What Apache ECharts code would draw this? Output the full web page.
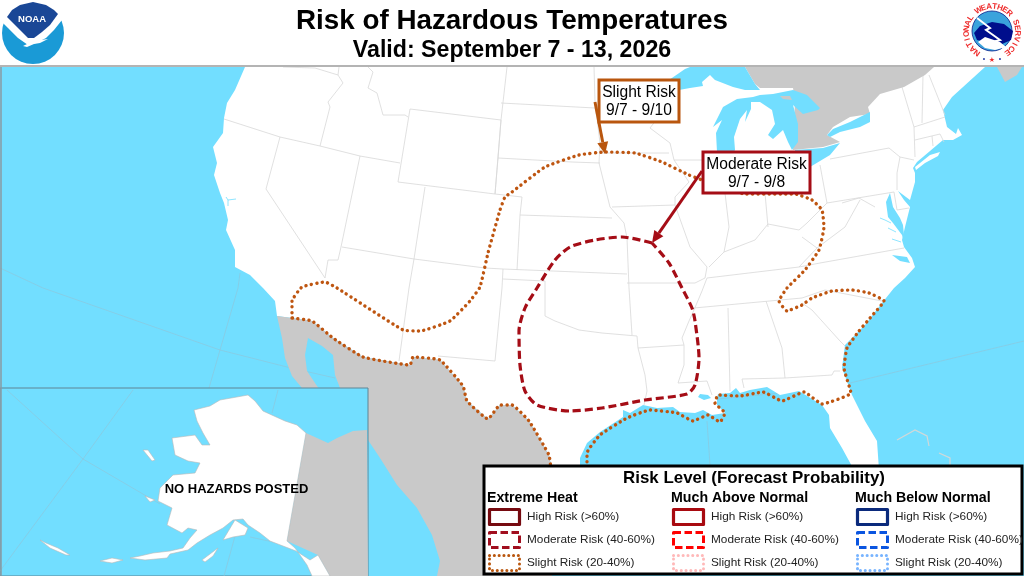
<!DOCTYPE html>
<html>
<head>
  <title>Risk of Hazardous Temperatures</title>
  <meta charset="UTF-8">
  <script src="https://cdn.jsdelivr.net/npm/echarts@6/dist/echarts.min.js"></script>
  <style>html,body{margin:0;padding:0;background:#fff}</style>
</head>
<body>
  <div id="myChart" style="width: 1024px; height: 576px;"></div>

  <script>
    const titleText = 'Risk of Hazardous Temperatures';
    const subtitleText = 'Valid: September 7 - 13, 2026';

    const oceanArea = [[0,67],[1024,67],[1024,576],[0,576]];
    const usLand = [[245,67],[235,90],[227,103],[224,118],[223,133],[213,147],[217,163],[214,175],[220,193],[224,203],[228,220],[226,230],[235,250],[235,267],[250,275],[263,288],[275,301],[277,316],[292,318],[312,321],[333,338],[363,357],[410,365],[413,357],[440,360],[463,386],[467,401],[488,419],[500,405],[512,405],[529,421],[549,455],[552,470],[580,470],[580,458],[587,443],[600,432],[623,417],[623,410],[630,413],[643,405],[657,408],[673,407],[680,412],[695,413],[703,410],[712,415],[725,413],[717,405],[717,398],[718,394],[730,393],[736,388],[740,393],[750,390],[767,387],[780,395],[799,391],[822,405],[829,415],[830,428],[842,448],[854,470],[879,470],[877,441],[865,421],[852,395],[842,368],[845,345],[865,325],[882,303],[894,288],[905,278],[915,267],[912,258],[904,247],[902,240],[905,227],[910,207],[904,200],[898,191],[910,200],[915,182],[915,173],[913,168],[917,162],[943,140],[953,140],[962,135],[958,128],[956,134],[947,127],[943,110],[952,97],[985,67]];
    const longIsland = [[915,167],[930,155],[940,152],[938,156],[925,163],[916,170]];
    const canadaEast = [[745,67],[934,67],[925,75],[904,87],[880,94],[868,107],[870,114],[850,117],[833,127],[827,135],[840,142],[823,147],[793,150],[795,100],[793,88],[760,88],[755,84]];
    const novaScotia = [[997,67],[1022,67],[1017,75],[1005,82]];
    const manitoulin = [[780,96],[790,96],[792,100],[783,99]];
    const mexicoLand = [[277,316],[292,318],[312,321],[333,338],[363,357],[410,365],[413,357],[440,360],[463,386],[467,401],[488,419],[500,405],[512,405],[529,421],[549,455],[552,470],[552,576],[437,576],[440,561],[432,535],[417,508],[397,485],[380,458],[368,440],[340,388],[335,375],[333,355],[322,346],[308,338],[305,355],[307,371],[317,386],[322,392],[302,388],[292,376],[285,358],[282,338]];
    const lakeSuperior = [[669,80],[685,69],[690,67],[745,67],[755,84],[760,90],[745,90],[733,87],[715,80],[710,75],[702,82],[703,86],[690,88],[679,90]];
    const lakeMichiganHuron = [[753,97],[737,99],[723,107],[717,119],[713,127],[722,120],[716,133],[717,152],[725,165],[735,150],[734,137],[740,119],[747,110],[745,122],[751,109],[751,102],[760,102],[772,110],[775,124],[768,135],[773,139],[783,130],[788,142],[792,150],[798,142],[798,124],[793,105],[803,114],[818,110],[820,108],[807,95],[793,90],[773,94],[760,95]];
    const lakeErie = [[840,143],[823,148],[795,150],[795,165],[810,167],[830,155]];
    const lakeOntario = [[827,135],[833,129],[850,122],[870,112],[870,122],[860,127],[840,132],[830,137]];
    const chesapeake = [[890,193],[886,202],[888,217],[893,223],[902,235],[905,245],[903,225],[900,218],[893,207]];
    const albemarle = [[892,255],[907,257],[910,263],[900,261]];
    const pontchartrain = [[698,397],[700,394],[708,395],[711,398],[704,400]];
    const waterLines = [
      [[880,218],[885,220],[891,223]],
      [[888,228],[896,232]],
      [[892,239],[901,242]],
      [[226,197],[228,200],[236,199]],
      [[228,200],[228,206]]
    ];

    const gridLines = [
      [[0,268],[43,288],[220,350],[287,367],[335,378]],
      [[240,273],[238,288],[220,350],[209,388]],
      [[850,383],[1024,341]],
      [[707,421],[710,465]],
      [[718,399],[780,393]]
    ];
    const cubaLines = [
      [[897,440],[915,430],[927,436],[929,446]],
      [[939,453],[950,458],[950,465]]
    ];
    const stateLines = [
      [[224,119],[280,137],[320,146],[360,156],[400,163]],
      [[280,137],[266,189],[325,278],[328,260],[338,260],[341,247]],
      [[360,156],[341,247]],
      [[320,146],[330,107],[328,102],[343,83],[338,75],[339,67]],
      [[283,67],[315,68],[338,75]],
      [[368,67],[373,72],[368,88],[377,93],[383,115],[405,115],[408,117]],
      [[410,109],[501,120],[495,194],[398,182],[410,109]],
      [[425,187],[414,259],[409,288],[399,361]],
      [[342,247],[414,259],[485,268],[503,269],[627,274]],
      [[507,67],[501,120],[498,158],[495,194]],
      [[495,194],[522,197],[520,215],[517,270]],
      [[503,269],[502,288],[495,361]],
      [[438,356],[495,361]],
      [[501,103],[595,108]],
      [[498,158],[572,162],[600,163]],
      [[520,215],[612,218]],
      [[503,279],[545,281],[545,316],[555,321],[579,330],[602,333],[637,336],[638,348],[684,345]],
      [[627,238],[629,288],[632,335]],
      [[627,283],[695,283]],
      [[638,348],[645,375],[647,391],[644,405]],
      [[684,345],[682,338],[689,321],[694,310],[702,291],[707,278]],
      [[684,345],[684,365],[678,383],[707,381],[712,395]],
      [[728,308],[730,391]],
      [[766,301],[782,348],[785,378],[742,379],[744,388]],
      [[785,378],[832,375],[834,371],[840,371]],
      [[694,308],[802,298],[825,290],[882,301]],
      [[802,303],[812,310],[840,341],[845,346]],
      [[594,67],[595,102],[600,143],[599,163],[610,207],[624,223],[627,238]],
      [[600,153],[669,153]],
      [[679,90],[650,128],[670,143],[674,160],[689,182],[675,197],[675,205]],
      [[674,160],[718,160]],
      [[612,207],[675,205],[690,247],[707,267],[705,278],[695,283]],
      [[725,193],[729,227],[724,252]],
      [[765,193],[768,227]],
      [[709,267],[724,252],[755,240],[768,224],[799,230],[807,223],[820,210]],
      [[707,278],[799,267],[820,263],[904,248]],
      [[799,267],[817,248],[802,237]],
      [[817,248],[845,227],[860,200]],
      [[820,165],[827,203],[820,210]],
      [[827,203],[894,192]],
      [[830,159],[889,148],[900,157],[914,160]],
      [[900,157],[897,173],[897,190]],
      [[894,192],[897,210],[909,208]],
      [[842,203],[859,198],[875,207]],
      [[902,87],[914,127],[915,157]],
      [[923,75],[922,123]],
      [[929,75],[945,115]],
      [[914,127],[945,117]],
      [[915,140],[940,134],[944,142]],
      [[932,136],[933,146]]
    ];

    const insetArea = [[0,388],[368,388],[368,576],[0,576]];
    const insetGrid = [
      [[7,390],[83,459],[160,504]],
      [[133,390],[83,459],[0,571]],
      [[278,390],[272,413]],
      [[235,536],[224,576]],
      [[250,537],[287,545]]
    ];
    const insetCanada = [[306,433],[328,443],[337,438],[353,431],[367,430],[368,576],[330,576],[318,555],[287,541]];
    const alaskaMain = [[194,410],[210,406],[220,400],[248,395],[255,401],[263,411],[285,421],[297,425],[306,433],[287,541],[295,548],[307,565],[312,576],[330,576],[318,555],[310,560],[296,551],[270,541],[260,533],[248,525],[243,519],[233,520],[223,528],[210,535],[197,543],[188,550],[170,554],[167,558],[145,560],[130,558],[140,556],[153,553],[170,551],[183,548],[190,538],[197,530],[188,528],[182,533],[167,525],[172,508],[158,501],[160,488],[173,475],[195,473],[200,463],[188,461],[175,455],[172,438],[195,435],[202,445],[210,445],[203,433],[197,421]];
    const alaskaIslands = [
      [[223,540],[235,520],[248,528],[245,535],[233,537]],
      [[202,560],[218,548],[213,556],[205,562]],
      [[143,450],[148,450],[155,460],[152,461]],
      [[145,496],[155,500],[150,502]],
      [[100,561],[112,558],[123,560],[112,563]],
      [[40,540],[46,543],[58,548],[70,555],[66,555],[50,548]]
    ];

    const slightRisk = [[292,318],[292,301],[302,287],[325,282],[337,288],[403,330],[420,331],[450,321],[470,301],[480,287],[488,253],[500,210],[505,197],[512,192],[545,167],[579,155],[605,152],[635,153],[662,162],[689,175],[702,180],[745,194],[795,194],[812,200],[822,210],[824,227],[819,250],[805,270],[787,288],[779,301],[787,311],[802,305],[812,298],[832,291],[852,290],[869,293],[884,301],[870,318],[859,331],[847,348],[844,368],[851,393],[822,404],[804,392],[782,401],[763,392],[740,396],[718,395],[715,403],[725,413],[720,422],[708,415],[693,421],[677,413],[650,410],[627,418],[600,435],[587,453],[587,470],[552,470],[549,455],[529,421],[512,405],[500,405],[488,419],[467,401],[463,386],[440,360],[413,357],[410,365],[363,357],[333,338],[312,321],[292,318]];
    const moderateRisk = [[652,243],[622,237],[595,240],[570,247],[555,260],[537,288],[525,308],[519,331],[520,365],[525,391],[537,405],[570,411],[602,408],[645,400],[687,394],[695,385],[699,358],[695,321],[692,308],[682,288],[669,263],[652,243]];

    const slightArrow = [[595,102],[605,154]];
    const moderateArrow = [[702,171],[652,243]];
    const calloutBoxes = [[599,80,679,122],[703,152,810,193]];
    const calloutColors = ['#B9560E', '#A50D16'];
    const calloutLines = [['Slight Risk', '9/7 - 9/10'], ['Moderate Risk', '9/7 - 9/8']];

    const legendBox = [484,466,1022,574];
    const legendTitle = 'Risk Level (Forecast Probability)';
    const legendHeads = ['Extreme Heat', 'Much Above Normal', 'Much Below Normal'];
    const legendLabels = ['High Risk (>60%)', 'Moderate Risk (40-60%)', 'Slight Risk (20-40%)'];
    const legendColumnX = [489.5, 673.5, 857.5];
    const legendRowY = [509.5, 532.5, 555.5];
    const legendColors = [
      ['#760A10', '#A10E1E', '#B9560E'],
      ['#A80A10', '#FF0000', '#FFB9B9'],
      ['#0B2A7C', '#0A55E0', '#78B4FF']
    ];

    const noaaDark = [[7,17],[12,10],[20,5],[33,2],[46,5],[54,10],[58,14],[50,25],[42,32],[34,38],[28,38],[18,28]];
    const noaaWhite = [[0,0],[66,0],[66,16],[62,20],[54,30],[46,38],[36,43],[28,45],[18,38],[8,28],[2,22]];
    const noaaTail = [[23,46],[33,41],[48,39],[40,43],[34,44],[27,47]];
    const nwsCloud = [[974,33],[980,26],[992,22],[1004,24],[1013,31],[1011,40],[1000,45],[985,42],[977,40]];
    const nwsWhiteCloud = [[978,42],[985,37],[1000,42],[1006,47],[995,50],[985,48]];
    const nwsBolt = [[977,18],[990,28],[986,30],[1000,40],[996,41],[1004,49]];
    const nwsRingText = 'NATIONAL WEATHER SERVICE';

    const LAND = '#FFFFFF', WATER = '#72DEFF', GRAY = '#C9C9C9';
    const FONT = '"Liberation Sans", Arial, sans-serif';

    function customSeries(list, z, draw) {
      return {
        type: 'custom', coordinateSystem: 'cartesian2d', silent: true, z: z, clip: false,
        data: list.map((_, i) => [i, i]),
        renderItem: (params, api) => draw(list[params.dataIndex], api, params.dataIndex)
      };
    }
    function polygons(list, fill, z, stroke, strokeWidth) {
      return customSeries(list, z, (pts, api) => ({
        type: 'polygon',
        shape: { points: pts.map(p => api.coord(p)) },
        style: { fill: fill, stroke: stroke || null, lineWidth: stroke ? (strokeWidth || 0.6) : 0, lineJoin: 'round' }
      }));
    }
    function polylines(list, color, width, z) {
      return customSeries(list, z, (pts, api) => ({
        type: 'polyline',
        shape: { points: pts.map(p => api.coord(p)) },
        style: { fill: null, stroke: color, lineWidth: width }
      }));
    }
    function rect(box, api) {
      const a = api.coord([box[0], box[1]]), b = api.coord([box[2], box[3]]);
      return { x: a[0], y: a[1], width: b[0] - a[0], height: b[1] - a[1] };
    }
    function texts(items, z) {
      return customSeries(items, z, (t, api) => {
        const c = api.coord([t.x, t.y]);
        return { type: 'text', x: c[0], y: c[1], rotation: t.rot || 0, style: {
          text: t.text, font: t.font, fill: t.fill || '#000',
          align: t.align || 'left', verticalAlign: 'middle' } };
      });
    }
    function arrow(pair, color, z) {
      return customSeries([pair], z, (p, api) => {
        const a = api.coord(p[0]), b = api.coord(p[1]);
        const len = Math.hypot(b[0] - a[0], b[1] - a[1]);
        const ux = (b[0] - a[0]) / len, uy = (b[1] - a[1]) / len;
        const bx = b[0] - ux * 12, by = b[1] - uy * 12;
        return { type: 'group', children: [
          { type: 'line', shape: { x1: a[0], y1: a[1], x2: bx, y2: by }, style: { stroke: color, lineWidth: 3 } },
          { type: 'polygon', shape: { points: [b, [bx - uy * 5.5, by + ux * 5.5], [bx + uy * 5.5, by - ux * 5.5]] }, style: { fill: color } }
        ] };
      });
    }
    function riskLine(data, color, width, dash, cap, z, smooth) {
      return {
        type: 'line', data: data, showSymbol: false, silent: true, z: z, clip: false, smooth: smooth,
        lineStyle: { color: color, width: width, type: dash, cap: cap, join: 'round' }
      };
    }

    const legendStyles = [
      { width: 3.2, dash: null, cap: 'butt' },
      { width: 3, dash: [7.5, 3.5], cap: 'butt' },
      { width: 3, dash: [0.1, 4.7], cap: 'round' }
    ];
    const swatches = [];
    const legendTexts = [
      { x: 754, y: 478, text: legendTitle, font: 'bold 16.9px ' + FONT, align: 'center' }
    ];
    legendColumnX.forEach((x, c) => {
      legendTexts.push({ x: x - 2.5, y: 498, text: legendHeads[c], font: 'bold 14.2px ' + FONT });
      legendRowY.forEach((y, r) => {
        swatches.push({ box: [x, y, x + 30, y + 15], color: legendColors[c][r], look: legendStyles[r] });
        legendTexts.push({ x: x + 37.5, y: y + 7.5, text: legendLabels[r], font: '11.8px ' + FONT, fill: '#222' });
      });
    });

    const calloutTexts = [];
    calloutBoxes.forEach((b, i) => {
      const cx = (b[0] + b[2]) / 2;
      calloutTexts.push({ x: cx, y: b[1] + 12.5, text: calloutLines[i][0], font: '15.6px ' + FONT, align: 'center' });
      calloutTexts.push({ x: cx, y: b[1] + 30.5, text: calloutLines[i][1], font: '15.6px ' + FONT, align: 'center' });
    });

    // letters of the NWS ring, one by one from lower left clockwise
    const ringTexts = nwsRingText.split('').map((ch, i, all) => {
      const deg = -144 + i * 287 / (all.length - 1), rad = deg * Math.PI / 180;
      return { x: 992 + 25.5 * Math.sin(rad), y: 32 - 25.5 * Math.cos(rad), text: ch, rot: -rad,
        font: 'bold 8px ' + FONT, fill: '#EE2B2B', align: 'center' };
    });

    const myChart = echarts.init(document.getElementById('myChart'));
    const option = {
      animation: false,
      backgroundColor: '#fff',
      title: [
        { text: titleText, left: 'center', top: 2, textStyle: { fontFamily: FONT, fontWeight: 'bold', fontSize: 27.8, color: '#000' } },
        { text: subtitleText, left: 'center', top: 34, textStyle: { fontFamily: FONT, fontWeight: 'bold', fontSize: 23.2, color: '#000' } }
      ],
      grid: { left: 0, right: 0, top: 0, bottom: 0 },
      xAxis: { type: 'value', min: 0, max: 1024, show: false },
      yAxis: { type: 'value', min: 0, max: 576, inverse: true, show: false },
      series: [
        polygons([oceanArea], WATER, 1),
        polylines(gridLines, '#8CC7DC', 0.7, 2),
        polylines(cubaLines, '#D2D8D8', 1.2, 2),
        polygons([usLand, longIsland], LAND, 3),
        polylines(stateLines, '#D8D8D8', 0.8, 4),
        polygons([canadaEast, novaScotia, mexicoLand], GRAY, 5),
        polygons([lakeSuperior, lakeMichiganHuron, lakeErie, lakeOntario, chesapeake, albemarle, pontchartrain], WATER, 6),
        polylines(waterLines, WATER, 0.8, 6),
        polygons([manitoulin], GRAY, 6),
        riskLine(slightRisk, '#BE5510', 3.4, [0.1, 5.4], 'round', 7, 0.12),
        riskLine(moderateRisk, '#A50D16', 3.2, [8, 4], 'butt', 8, 0.25),
        arrow(slightArrow, calloutColors[0], 9),
        arrow(moderateArrow, calloutColors[1], 9),
        customSeries(calloutBoxes, 10, (b, api, i) => ({
          type: 'rect', shape: rect(b, api), style: { fill: '#fff', stroke: calloutColors[i], lineWidth: 3 }
        })),
        texts(calloutTexts, 11),
        polygons([insetArea], WATER, 12, '#5E8494', 1),
        polylines(insetGrid, '#8CC7DC', 0.7, 13),
        polygons([insetCanada], GRAY, 14),
        polygons([alaskaMain].concat(alaskaIslands), LAND, 15, '#B8B8B8'),
        texts([{ x: 236.5, y: 489, text: 'NO HAZARDS POSTED', font: 'bold 13px ' + FONT, align: 'center' }], 16),
        customSeries([legendBox], 20, (b, api) => ({
          type: 'rect', shape: rect(b, api), style: { fill: '#fff', stroke: '#000', lineWidth: 3 }
        })),
        customSeries(swatches, 21, (s, api) => ({
          type: 'rect', shape: rect(s.box, api),
          style: { fill: null, stroke: s.color, lineWidth: s.look.width, lineDash: s.look.dash, lineCap: s.look.cap, lineJoin: 'round' }
        })),
        texts(legendTexts, 22),
        // header rule and page edge
        polylines([[[0,66],[1024,66]]], '#B4B4B4', 2, 23),
        polylines([[[1,67],[1,576]]], '#8A9AA2', 1.5, 23),
        // NOAA logo
        customSeries([[33, 33, 31]], 24, (c, api) => {
          const p = api.coord(c);
          return { type: 'circle', shape: { cx: p[0], cy: p[1], r: c[2] }, style: { fill: '#1A9AD6' } };
        }),
        polygons([noaaWhite], '#fff', 25),
        polygons([noaaDark], '#1A4796', 26),
        polygons([noaaTail], '#fff', 26),
        texts([{ x: 32, y: 19, text: 'NOAA', font: 'bold 9.5px ' + FONT, fill: '#fff', align: 'center' }], 27),
        // NWS logo
        customSeries([[992, 31, 20]], 24, (c, api) => {
          const p = api.coord(c);
          return { type: 'circle', shape: { cx: p[0], cy: p[1], r: c[2] }, style: { fill: '#3AA3DC', stroke: '#0B1F8C', lineWidth: 0.8 } };
        }),
        polygons([nwsCloud], '#000E8C', 25),
        polygons([nwsWhiteCloud], '#fff', 26),
        polylines([nwsBolt], '#fff', 2, 27),
        texts(ringTexts, 27),
        texts([
          { x: 984, y: 59, text: '•', font: '7px ' + FONT, fill: '#2A3FA8', align: 'center' },
          { x: 992, y: 60, text: '★', font: '7px "DejaVu Sans"', fill: '#EE2B2B', align: 'center' },
          { x: 1000, y: 59, text: '•', font: '7px ' + FONT, fill: '#2A3FA8', align: 'center' }
        ], 27)
      ]
    };
    myChart.setOption(option);
  </script>
</body>
</html>
